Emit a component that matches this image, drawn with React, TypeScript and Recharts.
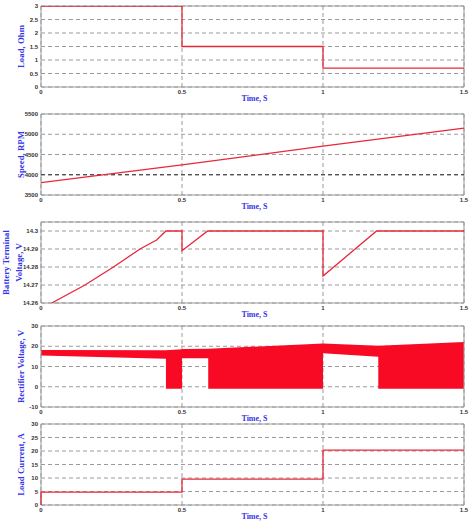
import { ComposedChart, Line, Area, XAxis, YAxis, CartesianGrid, ReferenceArea, ReferenceLine } from 'recharts';

// time axis shared by every panel
const timeTicks = [0, 0.5, 1, 1.5];

// Load, Ohm
const loadTime = [0, 0.5, 0.5, 1, 1, 1.5];
const loadOhm = [3, 3, 1.5, 1.5, 0.7, 0.7];
const loadTicks = [0, 0.5, 1, 1.5, 2, 2.5, 3];

// Speed, RPM
const speedTime = [0, 0.5, 1, 1.5];
const speedRpm = [3805, 4245, 4705, 5150];
const speedTicks = [3500, 4000, 4500, 5000, 5500];

// Battery terminal voltage
const battTime = [0.038, 0.156, 0.257, 0.351, 0.41, 0.443, 0.5, 0.5, 0.591, 1.0, 1.0, 1.19, 1.5];
const battVolt = [14.26, 14.27, 14.28, 14.29, 14.295, 14.3, 14.3, 14.289, 14.3, 14.3, 14.275, 14.3, 14.3];
const battTicks = [14.26, 14.27, 14.28, 14.29, 14.3];

// Rectifier voltage envelope (low / high)
const rectTime = [0, 0.443, 0.443, 0.5, 0.5, 0.593, 0.593, 1.0, 1.0, 1.196, 1.196, 1.5];
const rectLow = [15.4, 13.8, -1, -1, 14.1, 14.1, -1, -1, 16.5, 14.8, -1, -1];
const rectHigh = [18.2, 18.0, 18.0, 18.5, 18.7, 18.8, 18.8, 21.3, 21.3, 20.3, 20.3, 22.1];
const rectTicks = [-10, 0, 10, 20, 30];

// Load current, A
const curTime = [0, 0, 0.5, 0.5, 1, 1, 1.5];
const curAmp = [0, 4.8, 4.8, 9.6, 9.6, 20.3, 20.3];
const curTicks = [0, 5, 10, 15, 20, 25, 30];

const RED = '#e8283a';
const GRID = '#9a9a9a';
const BLUE = '#3434e8';
const SERIF = 'Liberation Serif, Times New Roman, serif';
const tickStyle = { fontSize: 6, fill: '#333', fontFamily: 'Liberation Sans, Arial, sans-serif', fontWeight: 'bold' as const };

function YLabel(props: any) {
  const { viewBox, lines } = props;
  const cy = viewBox.y + viewBox.height / 2;
  return (
    <g>
      {lines.map((txt: string, i: number) => {
        const x = lines.length === 1 ? 21 : 6 + i * 12.5;
        return (
          <text
            key={i}
            x={x}
            y={cy}
            transform={`rotate(-90, ${x}, ${cy})`}
            textAnchor="middle"
            dominantBaseline="central"
            fill={BLUE}
            fontSize={8.8}
            fontWeight="bold"
            fontFamily={SERIF}
          >
            {txt}
          </text>
        );
      })}
    </g>
  );
}

function TimeLabel(props: any) {
  const { viewBox } = props;
  return (
    <text
      x={viewBox.x + viewBox.width / 2 + 2}
      y={viewBox.y + 11}
      textAnchor="middle"
      dominantBaseline="central"
      fill={BLUE}
      fontSize={8}
      fontWeight="bold"
      fontFamily={SERIF}
    >
      Time, S
    </text>
  );
}

function Panel({ top, data, yTicks, yDomain, yLabel, children }: any) {
  return (
    <div style={{ position: 'absolute', left: 0, top: top - 5 }}>
      <ComposedChart width={474} height={104} data={data} margin={{ top: 5, right: 10, bottom: 0, left: 0 }}>
        <CartesianGrid stroke={GRID} strokeDasharray="4 3" />
        <XAxis
          dataKey="t"
          type="number"
          domain={[0, 1.5]}
          ticks={timeTicks}
          interval={0}
          height={18}
          tickLine={false}
          tickSize={0}
          axisLine={false}
          tick={tickStyle}
          tickMargin={3}
          label={<TimeLabel />}
        />
        <YAxis
          type="number"
          domain={yDomain}
          ticks={yTicks}
          interval={0}
          width={41}
          tickLine={false}
          tickSize={0}
          axisLine={false}
          tick={tickStyle}
          tickMargin={3}
          allowDataOverflow
          label={<YLabel lines={yLabel} />}
        />
        {children}
        <ReferenceArea x1={0} x2={1.5} y1={yDomain[0]} y2={yDomain[1]} fill="none" stroke={GRID} strokeWidth={1} ifOverflow="visible" />
      </ComposedChart>
    </div>
  );
}

export default function App() {
  const loadData = loadTime.map((t, i) => ({ t, v: loadOhm[i] }));
  const speedData = speedTime.map((t, i) => ({ t, v: speedRpm[i] }));
  const battData = battTime.map((t, i) => ({ t, v: battVolt[i] }));
  const rectData = rectTime.map((t, i) => ({ t, v: [rectLow[i], rectHigh[i]] }));
  const curData = curTime.map((t, i) => ({ t, v: curAmp[i] }));

  return (
    <div style={{ position: 'absolute', left: 0, top: 0, width: 474, height: 523, background: '#fff' }}>
      <Panel top={6} data={loadData} yTicks={loadTicks} yDomain={[0, 3]} yLabel={['Load, Ohm']}>
        <Line dataKey="v" type="linear" stroke={RED} strokeWidth={1.3} dot={false} isAnimationActive={false} />
      </Panel>
      <Panel top={114} data={speedData} yTicks={speedTicks} yDomain={[3500, 5500]} yLabel={['Speed, RPM']}>
        <ReferenceLine y={4000} stroke="#333" strokeDasharray="4 3" strokeWidth={1.2} />
        <Line dataKey="v" type="linear" stroke={RED} strokeWidth={1.3} dot={false} isAnimationActive={false} />
      </Panel>
      <Panel top={222} data={battData} yTicks={battTicks} yDomain={[14.26, 14.305]} yLabel={['Battery Terminal', 'Voltage, V']}>
        <Line dataKey="v" type="linear" stroke={RED} strokeWidth={1.3} dot={false} isAnimationActive={false} />
      </Panel>
      <Panel top={326} data={rectData} yTicks={rectTicks} yDomain={[-10, 30]} yLabel={['Rectifier Voltage, V']}>
        <Area dataKey="v" type="linear" stroke="none" fill="#f80a24" fillOpacity={1} isAnimationActive={false} />
      </Panel>
      <Panel top={424} data={curData} yTicks={curTicks} yDomain={[0, 30]} yLabel={['Load Current, A']}>
        <Line dataKey="v" type="linear" stroke={RED} strokeWidth={1.3} dot={false} isAnimationActive={false} />
      </Panel>
    </div>
  );
}
